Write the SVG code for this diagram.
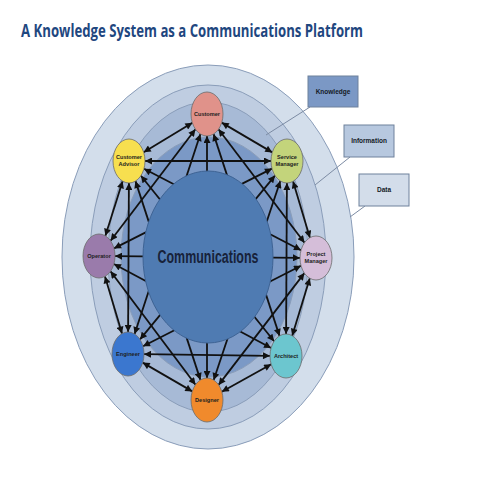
<svg xmlns="http://www.w3.org/2000/svg" width="480" height="480" viewBox="0 0 480 480">
<defs>
<marker id="ah" viewBox="0 0 10 10" markerUnits="userSpaceOnUse" markerWidth="9" markerHeight="7" refX="10" refY="5" orient="auto-start-reverse">
<path d="M0,0 L10,5 L0,10 z" fill="#111"/>
</marker>
<style>
.ring{stroke:#8a9db9;stroke-width:1}
.conn line{stroke:#111;stroke-width:1.8;marker-start:url(#ah);marker-end:url(#ah)}
.node ellipse{stroke:#6b6b6b;stroke-width:0.8}
.nl{font-family:"Liberation Sans",Arial,sans-serif;font-weight:bold;font-size:5.6px;fill:#1e1e1e;text-anchor:middle}
.leg rect{stroke:#6f819c;stroke-width:1}
.lt{font-family:"Liberation Sans",Arial,sans-serif;font-weight:bold;font-size:6.5px;fill:#151a26;text-anchor:middle}
.ll{stroke:#7c8ba3;stroke-width:1}
</style>
</defs>
<rect width="480" height="480" fill="#fff"/>
<text x="21" y="37" font-family="'Open Sans','Liberation Sans',sans-serif" font-weight="bold" font-size="17.5" fill="#1f477f" textLength="342" lengthAdjust="spacingAndGlyphs">A Knowledge System as a Communications Platform</text>

<g id="rings">
<ellipse class="ring" cx="208" cy="257" rx="146" ry="192" fill="#d3deeb"/>
<ellipse class="ring" cx="208" cy="257" rx="118" ry="172" fill="#bfcde1"/>
<ellipse class="ring" cx="208" cy="257" rx="100" ry="155" fill="#a7bad6"/>
<ellipse class="ring" cx="209" cy="257" rx="88" ry="120" fill="#7b99c6"/>
</g>

<g id="legend">
<line class="ll" x1="310" y1="107" x2="266" y2="135"/>
<line class="ll" x1="350" y1="157" x2="315" y2="185"/>
<line class="ll" x1="365" y1="206" x2="350" y2="217"/>
<g id="knowledge" class="leg"><rect x="308" y="76" width="50" height="31" fill="#7b98c5"/><text class="lt" x="333" y="94">Knowledge</text></g>
<g id="information" class="leg"><rect x="344" y="125" width="50" height="32" fill="#b7c8df"/><text class="lt" x="369" y="143">Information</text></g>
<g id="data" class="leg"><rect x="359" y="174" width="50" height="32" fill="#d3ddea"/><text class="lt" x="384" y="192">Data</text></g>
</g>

<g id="connectors" class="conn">
<line x1="192.4" y1="122.8" x2="143.7" y2="152.2"/>
<line x1="221.7" y1="122.6" x2="272.3" y2="152.4"/>
<line x1="195.4" y1="129.2" x2="110.6" y2="240.8"/>
<line x1="218.5" y1="129.2" x2="304.5" y2="242.8"/>
<line x1="200.4" y1="134.0" x2="134.6" y2="334.0"/>
<line x1="213.6" y1="134.1" x2="279.5" y2="335.9"/>
<line x1="207" y1="136" x2="207" y2="378"/>
<line x1="145" y1="161" x2="271" y2="161"/>
<line x1="122.6" y1="181.2" x2="105.4" y2="235.8"/>
<line x1="144.0" y1="168.8" x2="301.0" y2="250.2"/>
<line x1="128.9" y1="183" x2="128.1" y2="332"/>
<line x1="140.9" y1="175.7" x2="274.1" y2="341.3"/>
<line x1="135.5" y1="181.1" x2="200.4" y2="379.9"/>
<line x1="272.0" y1="168.6" x2="114.0" y2="248.4"/>
<line x1="293.1" y1="181.4" x2="309.9" y2="237.7"/>
<line x1="275.0" y1="175.6" x2="140.0" y2="339.4"/>
<line x1="286.9" y1="183" x2="286.1" y2="334"/>
<line x1="280.3" y1="181.0" x2="213.7" y2="380.0"/>
<line x1="115" y1="256.1" x2="300" y2="257.9"/>
<line x1="105.0" y1="276.4" x2="122.0" y2="333.6"/>
<line x1="113.9" y1="264.0" x2="271.1" y2="348.0"/>
<line x1="110.5" y1="271.3" x2="195.5" y2="384.7"/>
<line x1="301.0" y1="265.7" x2="143.0" y2="346.3"/>
<line x1="309.8" y1="278.3" x2="292.2" y2="335.7"/>
<line x1="304.4" y1="273.1" x2="218.6" y2="384.9"/>
<line x1="144" y1="354.2" x2="270" y2="355.8"/>
<line x1="142.7" y1="362.6" x2="192.3" y2="391.4"/>
<line x1="271.2" y1="364.3" x2="221.8" y2="391.7"/>
</g>

<g id="communications">
<ellipse cx="208" cy="257" rx="65" ry="86" fill="#4f7bb2" stroke="#3e6394" stroke-width="1"/>
<text x="208" y="263" text-anchor="middle" font-family="'Liberation Sans',Arial,sans-serif" font-weight="bold" font-size="17.5" fill="#17223a" textLength="101" lengthAdjust="spacingAndGlyphs">Communications</text>
</g>

<g id="customer" class="node"><ellipse cx="207" cy="114" rx="16" ry="22" fill="#e0928a"/><text class="nl" x="207" y="116">Customer</text></g>
<g id="customer-advisor" class="node"><ellipse cx="129" cy="161" rx="16" ry="22" fill="#f7df4f"/><text class="nl" x="129" y="159">Customer</text><text class="nl" x="129" y="166">Advisor</text></g>
<g id="service-manager" class="node"><ellipse cx="287" cy="161" rx="16" ry="22" fill="#c3d47b"/><text class="nl" x="287" y="159">Service</text><text class="nl" x="287" y="166">Manager</text></g>
<g id="operator" class="node"><ellipse cx="99" cy="256" rx="16" ry="22" fill="#9a7bab"/><text class="nl" x="99" y="258">Operator</text></g>
<g id="project-manager" class="node"><ellipse cx="316" cy="258" rx="16" ry="22" fill="#d5bed9"/><text class="nl" x="316" y="256">Project</text><text class="nl" x="316" y="263">Manager</text></g>
<g id="engineer" class="node"><ellipse cx="128" cy="354" rx="16" ry="22" fill="#3b77cf"/><text class="nl" x="128" y="356">Engineer</text></g>
<g id="architect" class="node"><ellipse cx="286" cy="356" rx="16" ry="22" fill="#6cc6cf"/><text class="nl" x="286" y="358">Architect</text></g>
<g id="designer" class="node"><ellipse cx="207" cy="400" rx="16" ry="22" fill="#f08a2c"/><text class="nl" x="207" y="402">Designer</text></g>
</svg>
